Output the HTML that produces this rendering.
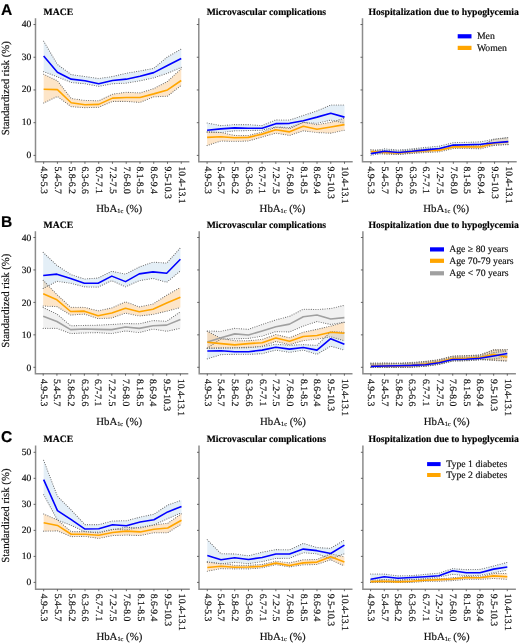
<!DOCTYPE html>
<html><head><meta charset="utf-8"><style>
html,body{margin:0;padding:0;background:#fff;}
svg{display:block;text-rendering:geometricPrecision;will-change:transform;}
text{font-family:"Liberation Serif",serif;stroke:#111;stroke-width:0.18px;}
.s{font-family:"Liberation Sans",sans-serif;}
</style></head><body>
<svg width="520" height="644" viewBox="0 0 520 644">
<rect width="520" height="644" fill="#fff"/>
<text x="1" y="14.8" class="s" font-weight="700" font-size="15.6" fill="#000">A</text>
<text x="43.60" y="14.7" font-weight="700" font-size="9.7" fill="#000">MACE</text>
<polygon points="43.65,74.25 57.41,80.80 71.17,98.47 84.93,100.43 98.69,100.76 112.45,94.21 126.21,92.25 139.97,92.90 153.73,88.65 167.49,81.45 181.25,68.69 181.25,85.38 167.49,96.18 153.73,96.83 139.97,102.39 126.21,101.41 112.45,101.41 98.69,107.30 84.93,107.63 71.17,106.65 57.41,96.50 43.65,103.05" fill="#f79723" fill-opacity="0.25"/>
<polygon points="43.65,41.21 57.41,64.44 71.17,74.58 84.93,76.54 98.69,78.51 112.45,76.54 126.21,73.27 139.97,70.98 153.73,68.36 167.49,56.91 181.25,49.06 181.25,67.38 167.49,73.27 153.73,77.85 139.97,80.80 126.21,83.09 112.45,83.74 98.69,86.36 84.93,83.74 71.17,82.43 57.41,76.87 43.65,71.64" fill="#93bfdf" fill-opacity="0.25"/>
<polyline points="43.65,74.25 57.41,80.80 71.17,98.47 84.93,100.43 98.69,100.76 112.45,94.21 126.21,92.25 139.97,92.90 153.73,88.65 167.49,81.45 181.25,68.69" fill="none" stroke="#6a6a6a" stroke-width="1.1" stroke-linecap="round" stroke-dasharray="0.05 2.25"/>
<polyline points="43.65,103.05 57.41,96.50 71.17,106.65 84.93,107.63 98.69,107.30 112.45,101.41 126.21,101.41 139.97,102.39 153.73,96.83 167.49,96.18 181.25,85.38" fill="none" stroke="#6a6a6a" stroke-width="1.1" stroke-linecap="round" stroke-dasharray="0.05 2.25"/>
<polyline points="43.65,41.21 57.41,64.44 71.17,74.58 84.93,76.54 98.69,78.51 112.45,76.54 126.21,73.27 139.97,70.98 153.73,68.36 167.49,56.91 181.25,49.06" fill="none" stroke="#6a6a6a" stroke-width="1.1" stroke-linecap="round" stroke-dasharray="0.05 2.25"/>
<polyline points="43.65,71.64 57.41,76.87 71.17,82.43 84.93,83.74 98.69,86.36 112.45,83.74 126.21,83.09 139.97,80.80 153.73,77.85 167.49,73.27 181.25,67.38" fill="none" stroke="#6a6a6a" stroke-width="1.1" stroke-linecap="round" stroke-dasharray="0.05 2.25"/>
<polyline points="43.65,89.31 57.41,89.63 71.17,102.72 84.93,104.68 98.69,104.36 112.45,98.14 126.21,97.49 139.97,97.49 153.73,93.89 167.49,89.96 181.25,80.47" fill="none" stroke="#ffa500" stroke-width="1.6" stroke-linejoin="round"/>
<polyline points="43.65,55.93 57.41,72.29 71.17,79.16 84.93,80.80 98.69,83.74 112.45,80.47 126.21,79.16 139.97,76.22 153.73,72.62 167.49,65.42 181.25,58.55" fill="none" stroke="#0000ff" stroke-width="1.6" stroke-linejoin="round"/>
<path d="M35.5,18.2 V161.8 H189.4" fill="none" stroke="#8c8c8c" stroke-width="1.5"/>
<path d="M33.5,155.40 H35.5" stroke="#555" stroke-width="0.9"/>
<text x="31.3" y="157.80" text-anchor="end" font-size="9.6" fill="#111">0</text>
<path d="M33.5,122.68 H35.5" stroke="#555" stroke-width="0.9"/>
<text x="31.3" y="125.08" text-anchor="end" font-size="9.6" fill="#111">10</text>
<path d="M33.5,89.96 H35.5" stroke="#555" stroke-width="0.9"/>
<text x="31.3" y="92.36" text-anchor="end" font-size="9.6" fill="#111">20</text>
<path d="M33.5,57.24 H35.5" stroke="#555" stroke-width="0.9"/>
<text x="31.3" y="59.64" text-anchor="end" font-size="9.6" fill="#111">30</text>
<path d="M33.5,24.52 H35.5" stroke="#555" stroke-width="0.9"/>
<text x="31.3" y="26.92" text-anchor="end" font-size="9.6" fill="#111">40</text>
<path d="M43.65,161.8 V163.8" stroke="#555" stroke-width="0.9"/>
<text transform="translate(41.05,166.50) rotate(90)" font-size="9.7" fill="#111">4.9-5.3</text>
<path d="M57.41,161.8 V163.8" stroke="#555" stroke-width="0.9"/>
<text transform="translate(54.81,166.50) rotate(90)" font-size="9.7" fill="#111">5.4-5.7</text>
<path d="M71.17,161.8 V163.8" stroke="#555" stroke-width="0.9"/>
<text transform="translate(68.57,166.50) rotate(90)" font-size="9.7" fill="#111">5.8-6.2</text>
<path d="M84.93,161.8 V163.8" stroke="#555" stroke-width="0.9"/>
<text transform="translate(82.33,166.50) rotate(90)" font-size="9.7" fill="#111">6.3-6.6</text>
<path d="M98.69,161.8 V163.8" stroke="#555" stroke-width="0.9"/>
<text transform="translate(96.09,166.50) rotate(90)" font-size="9.7" fill="#111">6.7-7.1</text>
<path d="M112.45,161.8 V163.8" stroke="#555" stroke-width="0.9"/>
<text transform="translate(109.85,166.50) rotate(90)" font-size="9.7" fill="#111">7.2-7.5</text>
<path d="M126.21,161.8 V163.8" stroke="#555" stroke-width="0.9"/>
<text transform="translate(123.61,166.50) rotate(90)" font-size="9.7" fill="#111">7.6-8.0</text>
<path d="M139.97,161.8 V163.8" stroke="#555" stroke-width="0.9"/>
<text transform="translate(137.37,166.50) rotate(90)" font-size="9.7" fill="#111">8.1-8.5</text>
<path d="M153.73,161.8 V163.8" stroke="#555" stroke-width="0.9"/>
<text transform="translate(151.13,166.50) rotate(90)" font-size="9.7" fill="#111">8.6-9.4</text>
<path d="M167.49,161.8 V163.8" stroke="#555" stroke-width="0.9"/>
<text transform="translate(164.89,166.50) rotate(90)" font-size="9.7" fill="#111">9.5-10.3</text>
<path d="M181.25,161.8 V163.8" stroke="#555" stroke-width="0.9"/>
<text transform="translate(178.65,166.50) rotate(90)" font-size="9.7" fill="#111">10.4-13.1</text>
<text x="96.30" y="211.60" font-size="10.8" fill="#111">HbA<tspan font-size="6.3" dy="0.9">1c</tspan><tspan dy="-0.9"> (%)</tspan></text>
<text x="206.70" y="14.7" font-weight="700" font-size="9.7" fill="#000">Microvascular complications</text>
<polygon points="207.10,131.51 220.84,132.50 234.58,135.44 248.32,135.44 262.06,132.17 275.80,127.26 289.54,128.57 303.28,122.35 317.02,124.64 330.76,122.35 344.50,118.10 344.50,130.21 330.76,133.15 317.02,132.50 303.28,130.86 289.54,135.44 275.80,133.15 262.06,137.08 248.32,141.00 234.58,141.33 220.84,141.00 207.10,145.58" fill="#f79723" fill-opacity="0.25"/>
<polygon points="207.10,123.01 220.84,125.62 234.58,124.64 248.32,124.64 262.06,125.62 275.80,119.90 289.54,120.06 303.28,115.48 317.02,110.90 330.76,105.01 344.50,105.01 344.50,123.17 330.76,120.06 317.02,123.33 303.28,122.35 289.54,127.59 275.80,126.93 262.06,130.21 248.32,130.53 234.58,130.86 220.84,132.50 207.10,132.50" fill="#93bfdf" fill-opacity="0.25"/>
<polyline points="207.10,131.51 220.84,132.50 234.58,135.44 248.32,135.44 262.06,132.17 275.80,127.26 289.54,128.57 303.28,122.35 317.02,124.64 330.76,122.35 344.50,118.10" fill="none" stroke="#6a6a6a" stroke-width="1.1" stroke-linecap="round" stroke-dasharray="0.05 2.25"/>
<polyline points="207.10,145.58 220.84,141.00 234.58,141.33 248.32,141.00 262.06,137.08 275.80,133.15 289.54,135.44 303.28,130.86 317.02,132.50 330.76,133.15 344.50,130.21" fill="none" stroke="#6a6a6a" stroke-width="1.1" stroke-linecap="round" stroke-dasharray="0.05 2.25"/>
<polyline points="207.10,123.01 220.84,125.62 234.58,124.64 248.32,124.64 262.06,125.62 275.80,119.90 289.54,120.06 303.28,115.48 317.02,110.90 330.76,105.01 344.50,105.01" fill="none" stroke="#6a6a6a" stroke-width="1.1" stroke-linecap="round" stroke-dasharray="0.05 2.25"/>
<polyline points="207.10,132.50 220.84,132.50 234.58,130.86 248.32,130.53 262.06,130.21 275.80,126.93 289.54,127.59 303.28,122.35 317.02,123.33 330.76,120.06 344.50,123.17" fill="none" stroke="#6a6a6a" stroke-width="1.1" stroke-linecap="round" stroke-dasharray="0.05 2.25"/>
<polyline points="207.10,137.40 220.84,136.75 234.58,137.73 248.32,137.40 262.06,134.13 275.80,129.71 289.54,131.84 303.28,126.28 317.02,129.22 330.76,126.93 344.50,124.64" fill="none" stroke="#ffa500" stroke-width="1.6" stroke-linejoin="round"/>
<polyline points="207.10,130.21 220.84,128.90 234.58,127.92 248.32,128.24 262.06,128.24 275.80,123.66 289.54,123.33 303.28,120.72 317.02,117.12 330.76,113.19 344.50,117.12" fill="none" stroke="#0000ff" stroke-width="1.6" stroke-linejoin="round"/>
<path d="M198.8,18.2 V161.8 H352.7" fill="none" stroke="#8c8c8c" stroke-width="1.5"/>
<path d="M196.8,155.40 H198.8" stroke="#555" stroke-width="0.9"/>
<path d="M196.8,122.68 H198.8" stroke="#555" stroke-width="0.9"/>
<path d="M196.8,89.96 H198.8" stroke="#555" stroke-width="0.9"/>
<path d="M196.8,57.24 H198.8" stroke="#555" stroke-width="0.9"/>
<path d="M196.8,24.52 H198.8" stroke="#555" stroke-width="0.9"/>
<path d="M207.10,161.8 V163.8" stroke="#555" stroke-width="0.9"/>
<text transform="translate(204.50,166.50) rotate(90)" font-size="9.7" fill="#111">4.9-5.3</text>
<path d="M220.84,161.8 V163.8" stroke="#555" stroke-width="0.9"/>
<text transform="translate(218.24,166.50) rotate(90)" font-size="9.7" fill="#111">5.4-5.7</text>
<path d="M234.58,161.8 V163.8" stroke="#555" stroke-width="0.9"/>
<text transform="translate(231.98,166.50) rotate(90)" font-size="9.7" fill="#111">5.8-6.2</text>
<path d="M248.32,161.8 V163.8" stroke="#555" stroke-width="0.9"/>
<text transform="translate(245.72,166.50) rotate(90)" font-size="9.7" fill="#111">6.3-6.6</text>
<path d="M262.06,161.8 V163.8" stroke="#555" stroke-width="0.9"/>
<text transform="translate(259.46,166.50) rotate(90)" font-size="9.7" fill="#111">6.7-7.1</text>
<path d="M275.80,161.8 V163.8" stroke="#555" stroke-width="0.9"/>
<text transform="translate(273.20,166.50) rotate(90)" font-size="9.7" fill="#111">7.2-7.5</text>
<path d="M289.54,161.8 V163.8" stroke="#555" stroke-width="0.9"/>
<text transform="translate(286.94,166.50) rotate(90)" font-size="9.7" fill="#111">7.6-8.0</text>
<path d="M303.28,161.8 V163.8" stroke="#555" stroke-width="0.9"/>
<text transform="translate(300.68,166.50) rotate(90)" font-size="9.7" fill="#111">8.1-8.5</text>
<path d="M317.02,161.8 V163.8" stroke="#555" stroke-width="0.9"/>
<text transform="translate(314.42,166.50) rotate(90)" font-size="9.7" fill="#111">8.6-9.4</text>
<path d="M330.76,161.8 V163.8" stroke="#555" stroke-width="0.9"/>
<text transform="translate(328.16,166.50) rotate(90)" font-size="9.7" fill="#111">9.5-10.3</text>
<path d="M344.50,161.8 V163.8" stroke="#555" stroke-width="0.9"/>
<text transform="translate(341.90,166.50) rotate(90)" font-size="9.7" fill="#111">10.4-13.1</text>
<text x="259.60" y="211.60" font-size="10.8" fill="#111">HbA<tspan font-size="6.3" dy="0.9">1c</tspan><tspan dy="-0.9"> (%)</tspan></text>
<text x="368.40" y="14.7" font-weight="700" font-size="9.7" fill="#000">Hospitalization due to hypoglycemia</text>
<polygon points="370.90,149.67 384.64,150.49 398.38,150.98 412.12,149.84 425.86,148.86 439.60,148.20 453.34,144.93 467.08,144.93 480.82,145.09 494.56,139.37 508.30,137.73 508.30,144.60 494.56,145.26 480.82,148.69 467.08,148.53 453.34,148.53 439.60,151.80 425.86,152.46 412.12,153.44 398.38,154.58 384.64,154.09 370.90,153.27" fill="#f79723" fill-opacity="0.25"/>
<polygon points="370.90,151.15 384.64,148.86 398.38,150.00 412.12,148.86 425.86,147.38 439.60,146.07 453.34,142.64 467.08,142.31 480.82,141.82 494.56,138.88 508.30,137.40 508.30,144.28 494.56,145.09 480.82,145.91 467.08,146.40 453.34,146.73 439.60,150.16 425.86,151.47 412.12,152.95 398.38,154.09 384.64,152.95 370.90,155.24" fill="#93bfdf" fill-opacity="0.25"/>
<polyline points="370.90,149.67 384.64,150.49 398.38,150.98 412.12,149.84 425.86,148.86 439.60,148.20 453.34,144.93 467.08,144.93 480.82,145.09 494.56,139.37 508.30,137.73" fill="none" stroke="#6a6a6a" stroke-width="1.1" stroke-linecap="round" stroke-dasharray="0.05 2.25"/>
<polyline points="370.90,153.27 384.64,154.09 398.38,154.58 412.12,153.44 425.86,152.46 439.60,151.80 453.34,148.53 467.08,148.53 480.82,148.69 494.56,145.26 508.30,144.60" fill="none" stroke="#6a6a6a" stroke-width="1.1" stroke-linecap="round" stroke-dasharray="0.05 2.25"/>
<polyline points="370.90,151.15 384.64,148.86 398.38,150.00 412.12,148.86 425.86,147.38 439.60,146.07 453.34,142.64 467.08,142.31 480.82,141.82 494.56,138.88 508.30,137.40" fill="none" stroke="#6a6a6a" stroke-width="1.1" stroke-linecap="round" stroke-dasharray="0.05 2.25"/>
<polyline points="370.90,155.24 384.64,152.95 398.38,154.09 412.12,152.95 425.86,151.47 439.60,150.16 453.34,146.73 467.08,146.40 480.82,145.91 494.56,145.09 508.30,144.28" fill="none" stroke="#6a6a6a" stroke-width="1.1" stroke-linecap="round" stroke-dasharray="0.05 2.25"/>
<polyline points="370.90,151.64 384.64,152.46 398.38,152.95 412.12,151.80 425.86,150.82 439.60,150.16 453.34,146.89 467.08,146.89 480.82,147.06 494.56,142.97 508.30,141.98" fill="none" stroke="#ffa500" stroke-width="1.6" stroke-linejoin="round"/>
<polyline points="370.90,153.60 384.64,151.31 398.38,152.46 412.12,151.31 425.86,149.84 439.60,148.53 453.34,145.09 467.08,144.77 480.82,144.28 494.56,142.80 508.30,141.66" fill="none" stroke="#0000ff" stroke-width="1.6" stroke-linejoin="round"/>
<path d="M362.5,18.2 V161.8 H516.7" fill="none" stroke="#8c8c8c" stroke-width="1.5"/>
<path d="M360.5,155.40 H362.5" stroke="#555" stroke-width="0.9"/>
<path d="M360.5,122.68 H362.5" stroke="#555" stroke-width="0.9"/>
<path d="M360.5,89.96 H362.5" stroke="#555" stroke-width="0.9"/>
<path d="M360.5,57.24 H362.5" stroke="#555" stroke-width="0.9"/>
<path d="M360.5,24.52 H362.5" stroke="#555" stroke-width="0.9"/>
<path d="M370.90,161.8 V163.8" stroke="#555" stroke-width="0.9"/>
<text transform="translate(368.30,166.50) rotate(90)" font-size="9.7" fill="#111">4.9-5.3</text>
<path d="M384.64,161.8 V163.8" stroke="#555" stroke-width="0.9"/>
<text transform="translate(382.04,166.50) rotate(90)" font-size="9.7" fill="#111">5.4-5.7</text>
<path d="M398.38,161.8 V163.8" stroke="#555" stroke-width="0.9"/>
<text transform="translate(395.78,166.50) rotate(90)" font-size="9.7" fill="#111">5.8-6.2</text>
<path d="M412.12,161.8 V163.8" stroke="#555" stroke-width="0.9"/>
<text transform="translate(409.52,166.50) rotate(90)" font-size="9.7" fill="#111">6.3-6.6</text>
<path d="M425.86,161.8 V163.8" stroke="#555" stroke-width="0.9"/>
<text transform="translate(423.26,166.50) rotate(90)" font-size="9.7" fill="#111">6.7-7.1</text>
<path d="M439.60,161.8 V163.8" stroke="#555" stroke-width="0.9"/>
<text transform="translate(437.00,166.50) rotate(90)" font-size="9.7" fill="#111">7.2-7.5</text>
<path d="M453.34,161.8 V163.8" stroke="#555" stroke-width="0.9"/>
<text transform="translate(450.74,166.50) rotate(90)" font-size="9.7" fill="#111">7.6-8.0</text>
<path d="M467.08,161.8 V163.8" stroke="#555" stroke-width="0.9"/>
<text transform="translate(464.48,166.50) rotate(90)" font-size="9.7" fill="#111">8.1-8.5</text>
<path d="M480.82,161.8 V163.8" stroke="#555" stroke-width="0.9"/>
<text transform="translate(478.22,166.50) rotate(90)" font-size="9.7" fill="#111">8.6-9.4</text>
<path d="M494.56,161.8 V163.8" stroke="#555" stroke-width="0.9"/>
<text transform="translate(491.96,166.50) rotate(90)" font-size="9.7" fill="#111">9.5-10.3</text>
<path d="M508.30,161.8 V163.8" stroke="#555" stroke-width="0.9"/>
<text transform="translate(505.70,166.50) rotate(90)" font-size="9.7" fill="#111">10.4-13.1</text>
<text x="423.30" y="211.60" font-size="10.8" fill="#111">HbA<tspan font-size="6.3" dy="0.9">1c</tspan><tspan dy="-0.9"> (%)</tspan></text>
<text transform="translate(8.6,88.20) rotate(-90)" text-anchor="middle" font-size="10.8" fill="#111">Standardized risk (%)</text>
<rect x="457.7" y="34.2" width="13.8" height="4.2" fill="#0000ff"/>
<text x="476.9" y="39.2" font-size="9.75" fill="#111">Men</text>
<rect x="457.7" y="45.8" width="13.8" height="4.2" fill="#ffa500"/>
<text x="476.9" y="50.6" font-size="9.75" fill="#111">Women</text>
<text x="1" y="226.9" class="s" font-weight="700" font-size="15.6" fill="#000">B</text>
<text x="43.60" y="227.7" font-weight="700" font-size="9.7" fill="#000">MACE</text>
<polygon points="43.20,307.59 56.92,314.08 70.64,325.76 84.36,325.44 98.08,325.12 111.80,324.47 125.52,323.49 139.24,323.82 152.96,320.57 166.68,321.22 180.40,311.81 180.40,328.36 166.68,331.28 152.96,329.01 139.24,332.58 125.52,330.96 111.80,333.55 98.08,332.58 84.36,332.90 70.64,333.55 56.92,328.36 43.20,328.36" fill="#c4c4c4" fill-opacity="0.24"/>
<polygon points="43.20,280.33 56.92,294.61 70.64,307.27 84.36,307.27 98.08,310.84 111.80,307.92 125.52,301.75 139.24,306.94 152.96,304.02 166.68,295.26 180.40,287.47 180.40,307.59 166.68,311.16 152.96,314.41 139.24,316.03 125.52,313.11 111.80,317.98 98.08,318.62 84.36,314.08 70.64,315.06 56.92,306.62 43.20,305.97" fill="#f79723" fill-opacity="0.25"/>
<polygon points="43.20,252.43 56.92,265.41 70.64,274.49 84.36,279.04 98.08,278.06 111.80,271.25 125.52,274.17 139.24,267.03 152.96,262.16 166.68,263.14 180.40,247.88 180.40,270.92 166.68,282.28 152.96,278.39 139.24,280.66 125.52,286.82 111.80,280.66 98.08,287.15 84.36,286.82 70.64,283.25 56.92,281.31 43.20,288.45" fill="#93bfdf" fill-opacity="0.25"/>
<polyline points="43.20,307.59 56.92,314.08 70.64,325.76 84.36,325.44 98.08,325.12 111.80,324.47 125.52,323.49 139.24,323.82 152.96,320.57 166.68,321.22 180.40,311.81" fill="none" stroke="#6a6a6a" stroke-width="1.1" stroke-linecap="round" stroke-dasharray="0.05 2.25"/>
<polyline points="43.20,328.36 56.92,328.36 70.64,333.55 84.36,332.90 98.08,332.58 111.80,333.55 125.52,330.96 139.24,332.58 152.96,329.01 166.68,331.28 180.40,328.36" fill="none" stroke="#6a6a6a" stroke-width="1.1" stroke-linecap="round" stroke-dasharray="0.05 2.25"/>
<polyline points="43.20,280.33 56.92,294.61 70.64,307.27 84.36,307.27 98.08,310.84 111.80,307.92 125.52,301.75 139.24,306.94 152.96,304.02 166.68,295.26 180.40,287.47" fill="none" stroke="#6a6a6a" stroke-width="1.1" stroke-linecap="round" stroke-dasharray="0.05 2.25"/>
<polyline points="43.20,305.97 56.92,306.62 70.64,315.06 84.36,314.08 98.08,318.62 111.80,317.98 125.52,313.11 139.24,316.03 152.96,314.41 166.68,311.16 180.40,307.59" fill="none" stroke="#6a6a6a" stroke-width="1.1" stroke-linecap="round" stroke-dasharray="0.05 2.25"/>
<polyline points="43.20,252.43 56.92,265.41 70.64,274.49 84.36,279.04 98.08,278.06 111.80,271.25 125.52,274.17 139.24,267.03 152.96,262.16 166.68,263.14 180.40,247.88" fill="none" stroke="#6a6a6a" stroke-width="1.1" stroke-linecap="round" stroke-dasharray="0.05 2.25"/>
<polyline points="43.20,288.45 56.92,281.31 70.64,283.25 84.36,286.82 98.08,287.15 111.80,280.66 125.52,286.82 139.24,280.66 152.96,278.39 166.68,282.28 180.40,270.92" fill="none" stroke="#6a6a6a" stroke-width="1.1" stroke-linecap="round" stroke-dasharray="0.05 2.25"/>
<polyline points="43.20,316.35 56.92,321.55 70.64,329.66 84.36,329.01 98.08,329.33 111.80,329.66 125.52,327.06 139.24,328.36 152.96,325.76 166.68,325.12 180.40,319.60" fill="none" stroke="#a0a0a0" stroke-width="1.6" stroke-linejoin="round"/>
<polyline points="43.20,293.80 56.92,299.80 70.64,311.49 84.36,311.16 98.08,315.70 111.80,312.95 125.52,308.24 139.24,311.81 152.96,309.21 166.68,303.05 180.40,297.21" fill="none" stroke="#ffa500" stroke-width="1.6" stroke-linejoin="round"/>
<polyline points="43.20,275.47 56.92,274.17 70.64,278.39 84.36,283.25 98.08,283.25 111.80,276.12 125.52,281.63 139.24,273.84 152.96,271.90 166.68,273.19 180.40,259.24" fill="none" stroke="#0000ff" stroke-width="1.6" stroke-linejoin="round"/>
<path d="M35.4,231.2 V373.7 H188.3" fill="none" stroke="#8c8c8c" stroke-width="1.5"/>
<path d="M33.4,367.30 H35.4" stroke="#555" stroke-width="0.9"/>
<text x="31.3" y="370.60" text-anchor="end" font-size="9.6" fill="#111">0</text>
<path d="M33.4,334.85 H35.4" stroke="#555" stroke-width="0.9"/>
<text x="31.3" y="338.15" text-anchor="end" font-size="9.6" fill="#111">10</text>
<path d="M33.4,302.40 H35.4" stroke="#555" stroke-width="0.9"/>
<text x="31.3" y="305.70" text-anchor="end" font-size="9.6" fill="#111">20</text>
<path d="M33.4,269.95 H35.4" stroke="#555" stroke-width="0.9"/>
<text x="31.3" y="273.25" text-anchor="end" font-size="9.6" fill="#111">30</text>
<path d="M33.4,237.50 H35.4" stroke="#555" stroke-width="0.9"/>
<text x="31.3" y="240.80" text-anchor="end" font-size="9.6" fill="#111">40</text>
<path d="M43.20,373.7 V375.7" stroke="#555" stroke-width="0.9"/>
<text transform="translate(40.60,378.90) rotate(90)" font-size="9.7" fill="#111">4.9-5.3</text>
<path d="M56.92,373.7 V375.7" stroke="#555" stroke-width="0.9"/>
<text transform="translate(54.32,378.90) rotate(90)" font-size="9.7" fill="#111">5.4-5.7</text>
<path d="M70.64,373.7 V375.7" stroke="#555" stroke-width="0.9"/>
<text transform="translate(68.04,378.90) rotate(90)" font-size="9.7" fill="#111">5.8-6.2</text>
<path d="M84.36,373.7 V375.7" stroke="#555" stroke-width="0.9"/>
<text transform="translate(81.76,378.90) rotate(90)" font-size="9.7" fill="#111">6.3-6.6</text>
<path d="M98.08,373.7 V375.7" stroke="#555" stroke-width="0.9"/>
<text transform="translate(95.48,378.90) rotate(90)" font-size="9.7" fill="#111">6.7-7.1</text>
<path d="M111.80,373.7 V375.7" stroke="#555" stroke-width="0.9"/>
<text transform="translate(109.20,378.90) rotate(90)" font-size="9.7" fill="#111">7.2-7.5</text>
<path d="M125.52,373.7 V375.7" stroke="#555" stroke-width="0.9"/>
<text transform="translate(122.92,378.90) rotate(90)" font-size="9.7" fill="#111">7.6-8.0</text>
<path d="M139.24,373.7 V375.7" stroke="#555" stroke-width="0.9"/>
<text transform="translate(136.64,378.90) rotate(90)" font-size="9.7" fill="#111">8.1-8.5</text>
<path d="M152.96,373.7 V375.7" stroke="#555" stroke-width="0.9"/>
<text transform="translate(150.36,378.90) rotate(90)" font-size="9.7" fill="#111">8.6-9.4</text>
<path d="M166.68,373.7 V375.7" stroke="#555" stroke-width="0.9"/>
<text transform="translate(164.08,378.90) rotate(90)" font-size="9.7" fill="#111">9.5-10.3</text>
<path d="M180.40,373.7 V375.7" stroke="#555" stroke-width="0.9"/>
<text transform="translate(177.80,378.90) rotate(90)" font-size="9.7" fill="#111">10.4-13.1</text>
<text x="96.20" y="424.70" font-size="10.8" fill="#111">HbA<tspan font-size="6.3" dy="0.9">1c</tspan><tspan dy="-0.9"> (%)</tspan></text>
<text x="206.70" y="227.7" font-weight="700" font-size="9.7" fill="#000">Microvascular complications</text>
<polygon points="207.30,330.96 221.01,331.28 234.72,328.36 248.43,329.33 262.14,324.47 275.85,319.92 289.56,316.35 303.27,309.21 316.98,309.54 330.69,308.57 344.40,305.32 344.40,322.19 330.69,324.47 316.98,321.55 303.27,326.09 289.56,331.93 275.85,331.61 262.14,336.15 248.43,338.42 234.72,338.74 221.01,339.07 207.30,348.15" fill="#c4c4c4" fill-opacity="0.24"/>
<polygon points="207.30,331.28 221.01,338.42 234.72,340.69 248.43,340.69 262.14,339.39 275.85,334.53 289.56,337.77 303.27,332.25 316.98,329.33 330.69,326.09 344.40,322.19 344.40,340.69 330.69,336.80 316.98,339.07 303.27,340.69 289.56,344.59 275.85,341.50 262.14,346.21 248.43,347.83 234.72,347.83 221.01,347.83 207.30,348.15" fill="#f79723" fill-opacity="0.25"/>
<polygon points="207.30,348.15 221.01,348.15 234.72,347.83 248.43,347.18 262.14,346.69 275.85,344.26 289.56,345.23 303.27,344.59 316.98,345.40 330.69,331.61 344.40,332.25 344.40,350.10 330.69,346.21 316.98,354.32 303.27,350.10 289.56,352.37 275.85,350.10 262.14,353.67 248.43,354.32 234.72,354.32 221.01,354.64 207.30,358.86" fill="#93bfdf" fill-opacity="0.25"/>
<polyline points="207.30,330.96 221.01,331.28 234.72,328.36 248.43,329.33 262.14,324.47 275.85,319.92 289.56,316.35 303.27,309.21 316.98,309.54 330.69,308.57 344.40,305.32" fill="none" stroke="#6a6a6a" stroke-width="1.1" stroke-linecap="round" stroke-dasharray="0.05 2.25"/>
<polyline points="207.30,348.15 221.01,339.07 234.72,338.74 248.43,338.42 262.14,336.15 275.85,331.61 289.56,331.93 303.27,326.09 316.98,321.55 330.69,324.47 344.40,322.19" fill="none" stroke="#6a6a6a" stroke-width="1.1" stroke-linecap="round" stroke-dasharray="0.05 2.25"/>
<polyline points="207.30,331.28 221.01,338.42 234.72,340.69 248.43,340.69 262.14,339.39 275.85,334.53 289.56,337.77 303.27,332.25 316.98,329.33 330.69,326.09 344.40,322.19" fill="none" stroke="#6a6a6a" stroke-width="1.1" stroke-linecap="round" stroke-dasharray="0.05 2.25"/>
<polyline points="207.30,348.15 221.01,347.83 234.72,347.83 248.43,347.83 262.14,346.21 275.85,341.50 289.56,344.59 303.27,340.69 316.98,339.07 330.69,336.80 344.40,340.69" fill="none" stroke="#6a6a6a" stroke-width="1.1" stroke-linecap="round" stroke-dasharray="0.05 2.25"/>
<polyline points="207.30,348.15 221.01,348.15 234.72,347.83 248.43,347.18 262.14,346.69 275.85,344.26 289.56,345.23 303.27,344.59 316.98,345.40 330.69,331.61 344.40,332.25" fill="none" stroke="#6a6a6a" stroke-width="1.1" stroke-linecap="round" stroke-dasharray="0.05 2.25"/>
<polyline points="207.30,358.86 221.01,354.64 234.72,354.32 248.43,354.32 262.14,353.67 275.85,350.10 289.56,352.37 303.27,350.10 316.98,354.32 330.69,346.21 344.40,350.10" fill="none" stroke="#6a6a6a" stroke-width="1.1" stroke-linecap="round" stroke-dasharray="0.05 2.25"/>
<polyline points="207.30,341.99 221.01,337.77 234.72,333.88 248.43,335.01 262.14,330.96 275.85,326.74 289.56,324.14 303.27,316.68 316.98,315.06 330.69,318.95 344.40,317.65" fill="none" stroke="#a0a0a0" stroke-width="1.6" stroke-linejoin="round"/>
<polyline points="207.30,342.31 221.01,343.61 234.72,344.91 248.43,343.61 262.14,342.80 275.85,337.93 289.56,341.34 303.27,336.47 316.98,335.50 330.69,332.25 344.40,333.23" fill="none" stroke="#ffa500" stroke-width="1.6" stroke-linejoin="round"/>
<polyline points="207.30,351.07 221.01,350.75 234.72,351.72 248.43,351.72 262.14,350.10 275.85,347.18 289.56,349.13 303.27,347.51 316.98,350.10 330.69,338.74 344.40,344.26" fill="none" stroke="#0000ff" stroke-width="1.6" stroke-linejoin="round"/>
<path d="M199.2,231.2 V373.7 H352.5" fill="none" stroke="#8c8c8c" stroke-width="1.5"/>
<path d="M197.2,367.30 H199.2" stroke="#555" stroke-width="0.9"/>
<path d="M197.2,334.85 H199.2" stroke="#555" stroke-width="0.9"/>
<path d="M197.2,302.40 H199.2" stroke="#555" stroke-width="0.9"/>
<path d="M197.2,269.95 H199.2" stroke="#555" stroke-width="0.9"/>
<path d="M197.2,237.50 H199.2" stroke="#555" stroke-width="0.9"/>
<path d="M207.30,373.7 V375.7" stroke="#555" stroke-width="0.9"/>
<text transform="translate(204.70,378.90) rotate(90)" font-size="9.7" fill="#111">4.9-5.3</text>
<path d="M221.01,373.7 V375.7" stroke="#555" stroke-width="0.9"/>
<text transform="translate(218.41,378.90) rotate(90)" font-size="9.7" fill="#111">5.4-5.7</text>
<path d="M234.72,373.7 V375.7" stroke="#555" stroke-width="0.9"/>
<text transform="translate(232.12,378.90) rotate(90)" font-size="9.7" fill="#111">5.8-6.2</text>
<path d="M248.43,373.7 V375.7" stroke="#555" stroke-width="0.9"/>
<text transform="translate(245.83,378.90) rotate(90)" font-size="9.7" fill="#111">6.3-6.6</text>
<path d="M262.14,373.7 V375.7" stroke="#555" stroke-width="0.9"/>
<text transform="translate(259.54,378.90) rotate(90)" font-size="9.7" fill="#111">6.7-7.1</text>
<path d="M275.85,373.7 V375.7" stroke="#555" stroke-width="0.9"/>
<text transform="translate(273.25,378.90) rotate(90)" font-size="9.7" fill="#111">7.2-7.5</text>
<path d="M289.56,373.7 V375.7" stroke="#555" stroke-width="0.9"/>
<text transform="translate(286.96,378.90) rotate(90)" font-size="9.7" fill="#111">7.6-8.0</text>
<path d="M303.27,373.7 V375.7" stroke="#555" stroke-width="0.9"/>
<text transform="translate(300.67,378.90) rotate(90)" font-size="9.7" fill="#111">8.1-8.5</text>
<path d="M316.98,373.7 V375.7" stroke="#555" stroke-width="0.9"/>
<text transform="translate(314.38,378.90) rotate(90)" font-size="9.7" fill="#111">8.6-9.4</text>
<path d="M330.69,373.7 V375.7" stroke="#555" stroke-width="0.9"/>
<text transform="translate(328.09,378.90) rotate(90)" font-size="9.7" fill="#111">9.5-10.3</text>
<path d="M344.40,373.7 V375.7" stroke="#555" stroke-width="0.9"/>
<text transform="translate(341.80,378.90) rotate(90)" font-size="9.7" fill="#111">10.4-13.1</text>
<text x="260.00" y="424.70" font-size="10.8" fill="#111">HbA<tspan font-size="6.3" dy="0.9">1c</tspan><tspan dy="-0.9"> (%)</tspan></text>
<text x="368.40" y="227.7" font-weight="700" font-size="9.7" fill="#000">Hospitalization due to hypoglycemia</text>
<polygon points="370.90,363.08 384.54,363.08 398.18,363.08 411.82,362.43 425.46,361.46 439.10,359.84 452.74,356.27 466.38,355.94 480.02,354.97 493.66,350.43 507.30,350.10 507.30,360.81 493.66,359.84 480.02,359.51 466.38,360.49 452.74,360.81 439.10,364.38 425.46,366.00 411.82,366.98 398.18,367.30 384.54,367.30 370.90,367.30" fill="#c4c4c4" fill-opacity="0.24"/>
<polygon points="370.90,363.41 384.54,363.08 398.18,363.41 411.82,362.76 425.46,361.46 439.10,359.51 452.74,355.94 466.38,355.62 480.02,354.97 493.66,349.61 507.30,349.61 507.30,361.13 493.66,360.49 480.02,359.51 466.38,360.16 452.74,360.49 439.10,364.06 425.46,366.00 411.82,367.30 398.18,367.30 384.54,367.30 370.90,367.30" fill="#f79723" fill-opacity="0.25"/>
<polygon points="370.90,364.44 384.54,364.06 398.18,363.73 411.82,363.41 425.46,362.76 439.10,360.81 452.74,357.56 466.38,357.24 480.02,356.27 493.66,352.37 507.30,351.07 507.30,356.92 493.66,358.86 480.02,359.84 466.38,360.81 452.74,361.13 439.10,364.38 425.46,366.33 411.82,366.98 398.18,367.30 384.54,367.30 370.90,367.30" fill="#93bfdf" fill-opacity="0.25"/>
<polyline points="370.90,363.08 384.54,363.08 398.18,363.08 411.82,362.43 425.46,361.46 439.10,359.84 452.74,356.27 466.38,355.94 480.02,354.97 493.66,350.43 507.30,350.10" fill="none" stroke="#6a6a6a" stroke-width="1.1" stroke-linecap="round" stroke-dasharray="0.05 2.25"/>
<polyline points="370.90,367.30 384.54,367.30 398.18,367.30 411.82,366.98 425.46,366.00 439.10,364.38 452.74,360.81 466.38,360.49 480.02,359.51 493.66,359.84 507.30,360.81" fill="none" stroke="#6a6a6a" stroke-width="1.1" stroke-linecap="round" stroke-dasharray="0.05 2.25"/>
<polyline points="370.90,363.41 384.54,363.08 398.18,363.41 411.82,362.76 425.46,361.46 439.10,359.51 452.74,355.94 466.38,355.62 480.02,354.97 493.66,349.61 507.30,349.61" fill="none" stroke="#6a6a6a" stroke-width="1.1" stroke-linecap="round" stroke-dasharray="0.05 2.25"/>
<polyline points="370.90,367.30 384.54,367.30 398.18,367.30 411.82,367.30 425.46,366.00 439.10,364.06 452.74,360.49 466.38,360.16 480.02,359.51 493.66,360.49 507.30,361.13" fill="none" stroke="#6a6a6a" stroke-width="1.1" stroke-linecap="round" stroke-dasharray="0.05 2.25"/>
<polyline points="370.90,364.44 384.54,364.06 398.18,363.73 411.82,363.41 425.46,362.76 439.10,360.81 452.74,357.56 466.38,357.24 480.02,356.27 493.66,352.37 507.30,351.07" fill="none" stroke="#6a6a6a" stroke-width="1.1" stroke-linecap="round" stroke-dasharray="0.05 2.25"/>
<polyline points="370.90,367.30 384.54,367.30 398.18,367.30 411.82,366.98 425.46,366.33 439.10,364.38 452.74,361.13 466.38,360.81 480.02,359.84 493.66,358.86 507.30,356.92" fill="none" stroke="#6a6a6a" stroke-width="1.1" stroke-linecap="round" stroke-dasharray="0.05 2.25"/>
<polyline points="370.90,365.68 384.54,365.68 398.18,365.68 411.82,365.03 425.46,364.06 439.10,362.43 452.74,358.86 466.38,358.54 480.02,357.56 493.66,354.97 507.30,355.94" fill="none" stroke="#a0a0a0" stroke-width="1.6" stroke-linejoin="round"/>
<polyline points="370.90,366.00 384.54,365.68 398.18,366.00 411.82,365.35 425.46,364.06 439.10,362.11 452.74,358.54 466.38,358.21 480.02,357.56 493.66,354.32 507.30,357.24" fill="none" stroke="#ffa500" stroke-width="1.6" stroke-linejoin="round"/>
<polyline points="370.90,366.39 384.54,366.00 398.18,365.68 411.82,365.35 425.46,364.70 439.10,362.76 452.74,359.51 466.38,359.19 480.02,358.21 493.66,355.94 507.30,353.51" fill="none" stroke="#0000ff" stroke-width="1.6" stroke-linejoin="round"/>
<path d="M362.9,231.2 V373.7 H515.9" fill="none" stroke="#8c8c8c" stroke-width="1.5"/>
<path d="M360.9,367.30 H362.9" stroke="#555" stroke-width="0.9"/>
<path d="M360.9,334.85 H362.9" stroke="#555" stroke-width="0.9"/>
<path d="M360.9,302.40 H362.9" stroke="#555" stroke-width="0.9"/>
<path d="M360.9,269.95 H362.9" stroke="#555" stroke-width="0.9"/>
<path d="M360.9,237.50 H362.9" stroke="#555" stroke-width="0.9"/>
<path d="M370.90,373.7 V375.7" stroke="#555" stroke-width="0.9"/>
<text transform="translate(368.30,378.90) rotate(90)" font-size="9.7" fill="#111">4.9-5.3</text>
<path d="M384.54,373.7 V375.7" stroke="#555" stroke-width="0.9"/>
<text transform="translate(381.94,378.90) rotate(90)" font-size="9.7" fill="#111">5.4-5.7</text>
<path d="M398.18,373.7 V375.7" stroke="#555" stroke-width="0.9"/>
<text transform="translate(395.58,378.90) rotate(90)" font-size="9.7" fill="#111">5.8-6.2</text>
<path d="M411.82,373.7 V375.7" stroke="#555" stroke-width="0.9"/>
<text transform="translate(409.22,378.90) rotate(90)" font-size="9.7" fill="#111">6.3-6.6</text>
<path d="M425.46,373.7 V375.7" stroke="#555" stroke-width="0.9"/>
<text transform="translate(422.86,378.90) rotate(90)" font-size="9.7" fill="#111">6.7-7.1</text>
<path d="M439.10,373.7 V375.7" stroke="#555" stroke-width="0.9"/>
<text transform="translate(436.50,378.90) rotate(90)" font-size="9.7" fill="#111">7.2-7.5</text>
<path d="M452.74,373.7 V375.7" stroke="#555" stroke-width="0.9"/>
<text transform="translate(450.14,378.90) rotate(90)" font-size="9.7" fill="#111">7.6-8.0</text>
<path d="M466.38,373.7 V375.7" stroke="#555" stroke-width="0.9"/>
<text transform="translate(463.78,378.90) rotate(90)" font-size="9.7" fill="#111">8.1-8.5</text>
<path d="M480.02,373.7 V375.7" stroke="#555" stroke-width="0.9"/>
<text transform="translate(477.42,378.90) rotate(90)" font-size="9.7" fill="#111">8.6-9.4</text>
<path d="M493.66,373.7 V375.7" stroke="#555" stroke-width="0.9"/>
<text transform="translate(491.06,378.90) rotate(90)" font-size="9.7" fill="#111">9.5-10.3</text>
<path d="M507.30,373.7 V375.7" stroke="#555" stroke-width="0.9"/>
<text transform="translate(504.70,378.90) rotate(90)" font-size="9.7" fill="#111">10.4-13.1</text>
<text x="423.70" y="424.70" font-size="10.8" fill="#111">HbA<tspan font-size="6.3" dy="0.9">1c</tspan><tspan dy="-0.9"> (%)</tspan></text>
<text transform="translate(8.6,300.65) rotate(-90)" text-anchor="middle" font-size="10.8" fill="#111">Standardized risk (%)</text>
<rect x="430.0" y="247.3" width="14.0" height="4.2" fill="#0000ff"/>
<text x="449.2" y="252.2" font-size="9.75" fill="#111">Age ≥ 80 years</text>
<rect x="430.0" y="258.7" width="14.0" height="4.2" fill="#ffa500"/>
<text x="449.2" y="263.9" font-size="9.75" fill="#111">Age 70-79 years</text>
<rect x="430.0" y="271.2" width="14.0" height="4.2" fill="#a0a0a0"/>
<text x="449.2" y="276.0" font-size="9.75" fill="#111">Age &lt; 70 years</text>
<text x="1" y="441.9" class="s" font-weight="700" font-size="15.6" fill="#000">C</text>
<text x="43.60" y="442.3" font-weight="700" font-size="9.7" fill="#000">MACE</text>
<polygon points="43.65,513.97 57.44,519.95 71.22,531.66 85.00,531.66 98.79,532.96 112.57,529.58 126.36,527.24 140.14,528.02 153.93,524.90 167.71,523.33 181.50,513.71 181.50,524.12 167.71,532.70 153.93,532.70 140.14,535.56 126.36,535.04 112.57,535.56 98.79,538.43 85.00,536.34 71.22,536.60 57.44,530.88 43.65,531.14" fill="#f79723" fill-opacity="0.25"/>
<polygon points="43.65,460.37 57.44,496.27 71.22,510.06 85.00,524.64 98.79,524.64 112.57,520.99 126.36,520.73 140.14,517.09 153.93,514.23 167.71,505.12 181.50,500.18 181.50,512.67 167.71,518.65 153.93,524.90 140.14,527.24 126.36,529.84 112.57,529.32 98.79,532.18 85.00,531.66 71.22,525.42 57.44,519.95 43.65,494.71" fill="#93bfdf" fill-opacity="0.25"/>
<polyline points="43.65,513.97 57.44,519.95 71.22,531.66 85.00,531.66 98.79,532.96 112.57,529.58 126.36,527.24 140.14,528.02 153.93,524.90 167.71,523.33 181.50,513.71" fill="none" stroke="#6a6a6a" stroke-width="1.1" stroke-linecap="round" stroke-dasharray="0.05 2.25"/>
<polyline points="43.65,531.14 57.44,530.88 71.22,536.60 85.00,536.34 98.79,538.43 112.57,535.56 126.36,535.04 140.14,535.56 153.93,532.70 167.71,532.70 181.50,524.12" fill="none" stroke="#6a6a6a" stroke-width="1.1" stroke-linecap="round" stroke-dasharray="0.05 2.25"/>
<polyline points="43.65,460.37 57.44,496.27 71.22,510.06 85.00,524.64 98.79,524.64 112.57,520.99 126.36,520.73 140.14,517.09 153.93,514.23 167.71,505.12 181.50,500.18" fill="none" stroke="#6a6a6a" stroke-width="1.1" stroke-linecap="round" stroke-dasharray="0.05 2.25"/>
<polyline points="43.65,494.71 57.44,519.95 71.22,525.42 85.00,531.66 98.79,532.18 112.57,529.32 126.36,529.84 140.14,527.24 153.93,524.90 167.71,518.65 181.50,512.67" fill="none" stroke="#6a6a6a" stroke-width="1.1" stroke-linecap="round" stroke-dasharray="0.05 2.25"/>
<polyline points="43.65,522.81 57.44,525.42 71.22,534.26 85.00,534.26 98.79,535.30 112.57,532.44 126.36,531.14 140.14,531.92 153.93,529.32 167.71,528.02 181.50,520.21" fill="none" stroke="#ffa500" stroke-width="1.6" stroke-linejoin="round"/>
<polyline points="43.65,479.62 57.44,510.58 71.22,519.69 85.00,529.06 98.79,528.80 112.57,524.77 126.36,525.68 140.14,522.03 153.93,519.69 167.71,511.89 181.50,506.42" fill="none" stroke="#0000ff" stroke-width="1.6" stroke-linejoin="round"/>
<path d="M35.6,445.6 V589.2 H189.8" fill="none" stroke="#8c8c8c" stroke-width="1.5"/>
<path d="M33.6,582.40 H35.6" stroke="#555" stroke-width="0.9"/>
<text x="31.3" y="584.90" text-anchor="end" font-size="9.6" fill="#111">0</text>
<path d="M33.6,556.38 H35.6" stroke="#555" stroke-width="0.9"/>
<text x="31.3" y="558.88" text-anchor="end" font-size="9.6" fill="#111">10</text>
<path d="M33.6,530.36 H35.6" stroke="#555" stroke-width="0.9"/>
<text x="31.3" y="532.86" text-anchor="end" font-size="9.6" fill="#111">20</text>
<path d="M33.6,504.34 H35.6" stroke="#555" stroke-width="0.9"/>
<text x="31.3" y="506.84" text-anchor="end" font-size="9.6" fill="#111">30</text>
<path d="M33.6,478.32 H35.6" stroke="#555" stroke-width="0.9"/>
<text x="31.3" y="480.82" text-anchor="end" font-size="9.6" fill="#111">40</text>
<path d="M33.6,452.30 H35.6" stroke="#555" stroke-width="0.9"/>
<text x="31.3" y="454.80" text-anchor="end" font-size="9.6" fill="#111">50</text>
<path d="M43.65,589.2 V591.2" stroke="#555" stroke-width="0.9"/>
<text transform="translate(41.05,593.80) rotate(90)" font-size="9.7" fill="#111">4.9-5.3</text>
<path d="M57.44,589.2 V591.2" stroke="#555" stroke-width="0.9"/>
<text transform="translate(54.84,593.80) rotate(90)" font-size="9.7" fill="#111">5.4-5.7</text>
<path d="M71.22,589.2 V591.2" stroke="#555" stroke-width="0.9"/>
<text transform="translate(68.62,593.80) rotate(90)" font-size="9.7" fill="#111">5.8-6.2</text>
<path d="M85.00,589.2 V591.2" stroke="#555" stroke-width="0.9"/>
<text transform="translate(82.41,593.80) rotate(90)" font-size="9.7" fill="#111">6.3-6.6</text>
<path d="M98.79,589.2 V591.2" stroke="#555" stroke-width="0.9"/>
<text transform="translate(96.19,593.80) rotate(90)" font-size="9.7" fill="#111">6.7-7.1</text>
<path d="M112.57,589.2 V591.2" stroke="#555" stroke-width="0.9"/>
<text transform="translate(109.97,593.80) rotate(90)" font-size="9.7" fill="#111">7.2-7.5</text>
<path d="M126.36,589.2 V591.2" stroke="#555" stroke-width="0.9"/>
<text transform="translate(123.76,593.80) rotate(90)" font-size="9.7" fill="#111">7.6-8.0</text>
<path d="M140.14,589.2 V591.2" stroke="#555" stroke-width="0.9"/>
<text transform="translate(137.54,593.80) rotate(90)" font-size="9.7" fill="#111">8.1-8.5</text>
<path d="M153.93,589.2 V591.2" stroke="#555" stroke-width="0.9"/>
<text transform="translate(151.33,593.80) rotate(90)" font-size="9.7" fill="#111">8.6-9.4</text>
<path d="M167.71,589.2 V591.2" stroke="#555" stroke-width="0.9"/>
<text transform="translate(165.11,593.80) rotate(90)" font-size="9.7" fill="#111">9.5-10.3</text>
<path d="M181.50,589.2 V591.2" stroke="#555" stroke-width="0.9"/>
<text transform="translate(178.90,593.80) rotate(90)" font-size="9.7" fill="#111">10.4-13.1</text>
<text x="96.40" y="639.60" font-size="10.8" fill="#111">HbA<tspan font-size="6.3" dy="0.9">1c</tspan><tspan dy="-0.9"> (%)</tspan></text>
<text x="206.70" y="442.3" font-weight="700" font-size="9.7" fill="#000">Microvascular complications</text>
<polygon points="207.30,562.36 221.01,563.41 234.72,565.23 248.43,565.23 262.14,564.45 275.85,561.19 289.56,562.88 303.27,559.76 316.98,559.50 330.69,553.78 344.40,556.77 344.40,566.01 330.69,559.76 316.98,564.45 303.27,564.84 289.56,566.92 275.85,564.71 262.14,567.83 248.43,568.87 234.72,568.87 221.01,568.61 207.30,571.21" fill="#f79723" fill-opacity="0.25"/>
<polygon points="207.30,539.73 221.01,553.78 234.72,553.91 248.43,555.86 262.14,552.22 275.85,549.61 289.56,549.88 303.27,543.37 316.98,547.53 330.69,548.31 344.40,539.99 344.40,553.78 330.69,558.98 316.98,553.78 303.27,552.74 289.56,558.20 275.85,558.46 262.14,561.58 248.43,563.67 234.72,562.36 221.01,563.93 207.30,561.58" fill="#93bfdf" fill-opacity="0.25"/>
<polyline points="207.30,562.36 221.01,563.41 234.72,565.23 248.43,565.23 262.14,564.45 275.85,561.19 289.56,562.88 303.27,559.76 316.98,559.50 330.69,553.78 344.40,556.77" fill="none" stroke="#6a6a6a" stroke-width="1.1" stroke-linecap="round" stroke-dasharray="0.05 2.25"/>
<polyline points="207.30,571.21 221.01,568.61 234.72,568.87 248.43,568.87 262.14,567.83 275.85,564.71 289.56,566.92 303.27,564.84 316.98,564.45 330.69,559.76 344.40,566.01" fill="none" stroke="#6a6a6a" stroke-width="1.1" stroke-linecap="round" stroke-dasharray="0.05 2.25"/>
<polyline points="207.30,539.73 221.01,553.78 234.72,553.91 248.43,555.86 262.14,552.22 275.85,549.61 289.56,549.88 303.27,543.37 316.98,547.53 330.69,548.31 344.40,539.99" fill="none" stroke="#6a6a6a" stroke-width="1.1" stroke-linecap="round" stroke-dasharray="0.05 2.25"/>
<polyline points="207.30,561.58 221.01,563.93 234.72,562.36 248.43,563.67 262.14,561.58 275.85,558.46 289.56,558.20 303.27,552.74 316.98,553.78 330.69,558.98 344.40,553.78" fill="none" stroke="#6a6a6a" stroke-width="1.1" stroke-linecap="round" stroke-dasharray="0.05 2.25"/>
<polyline points="207.30,567.57 221.01,566.27 234.72,567.31 248.43,567.05 262.14,566.27 275.85,563.15 289.56,565.49 303.27,562.88 316.98,562.10 330.69,556.77 344.40,562.10" fill="none" stroke="#ffa500" stroke-width="1.6" stroke-linejoin="round"/>
<polyline points="207.30,555.60 221.01,559.76 234.72,557.68 248.43,559.50 262.14,557.42 275.85,554.04 289.56,554.04 303.27,549.09 316.98,550.66 330.69,553.52 344.40,545.19" fill="none" stroke="#0000ff" stroke-width="1.6" stroke-linejoin="round"/>
<path d="M199.0,445.6 V589.2 H352.5" fill="none" stroke="#8c8c8c" stroke-width="1.5"/>
<path d="M197.0,582.40 H199.0" stroke="#555" stroke-width="0.9"/>
<path d="M197.0,556.38 H199.0" stroke="#555" stroke-width="0.9"/>
<path d="M197.0,530.36 H199.0" stroke="#555" stroke-width="0.9"/>
<path d="M197.0,504.34 H199.0" stroke="#555" stroke-width="0.9"/>
<path d="M197.0,478.32 H199.0" stroke="#555" stroke-width="0.9"/>
<path d="M197.0,452.30 H199.0" stroke="#555" stroke-width="0.9"/>
<path d="M207.30,589.2 V591.2" stroke="#555" stroke-width="0.9"/>
<text transform="translate(204.70,593.80) rotate(90)" font-size="9.7" fill="#111">4.9-5.3</text>
<path d="M221.01,589.2 V591.2" stroke="#555" stroke-width="0.9"/>
<text transform="translate(218.41,593.80) rotate(90)" font-size="9.7" fill="#111">5.4-5.7</text>
<path d="M234.72,589.2 V591.2" stroke="#555" stroke-width="0.9"/>
<text transform="translate(232.12,593.80) rotate(90)" font-size="9.7" fill="#111">5.8-6.2</text>
<path d="M248.43,589.2 V591.2" stroke="#555" stroke-width="0.9"/>
<text transform="translate(245.83,593.80) rotate(90)" font-size="9.7" fill="#111">6.3-6.6</text>
<path d="M262.14,589.2 V591.2" stroke="#555" stroke-width="0.9"/>
<text transform="translate(259.54,593.80) rotate(90)" font-size="9.7" fill="#111">6.7-7.1</text>
<path d="M275.85,589.2 V591.2" stroke="#555" stroke-width="0.9"/>
<text transform="translate(273.25,593.80) rotate(90)" font-size="9.7" fill="#111">7.2-7.5</text>
<path d="M289.56,589.2 V591.2" stroke="#555" stroke-width="0.9"/>
<text transform="translate(286.96,593.80) rotate(90)" font-size="9.7" fill="#111">7.6-8.0</text>
<path d="M303.27,589.2 V591.2" stroke="#555" stroke-width="0.9"/>
<text transform="translate(300.67,593.80) rotate(90)" font-size="9.7" fill="#111">8.1-8.5</text>
<path d="M316.98,589.2 V591.2" stroke="#555" stroke-width="0.9"/>
<text transform="translate(314.38,593.80) rotate(90)" font-size="9.7" fill="#111">8.6-9.4</text>
<path d="M330.69,589.2 V591.2" stroke="#555" stroke-width="0.9"/>
<text transform="translate(328.09,593.80) rotate(90)" font-size="9.7" fill="#111">9.5-10.3</text>
<path d="M344.40,589.2 V591.2" stroke="#555" stroke-width="0.9"/>
<text transform="translate(341.80,593.80) rotate(90)" font-size="9.7" fill="#111">10.4-13.1</text>
<text x="259.80" y="639.60" font-size="10.8" fill="#111">HbA<tspan font-size="6.3" dy="0.9">1c</tspan><tspan dy="-0.9"> (%)</tspan></text>
<text x="368.40" y="442.3" font-weight="700" font-size="9.7" fill="#000">Hospitalization due to hypoglycemia</text>
<polygon points="370.60,580.06 384.27,579.80 397.94,580.32 411.61,579.80 425.28,579.02 438.95,578.76 452.62,577.72 466.29,576.42 479.96,576.94 493.63,573.55 507.30,573.55 507.30,579.28 493.63,578.50 479.96,579.28 466.29,579.28 452.62,580.58 438.95,581.23 425.28,581.36 411.61,582.40 397.94,582.40 384.27,582.40 370.60,582.40" fill="#f79723" fill-opacity="0.25"/>
<polygon points="370.60,574.07 384.27,574.07 397.94,575.89 411.61,575.63 425.28,574.33 438.95,573.16 452.62,568.61 466.29,569.65 479.96,569.39 493.63,566.01 507.30,562.36 507.30,570.17 493.63,572.77 479.96,575.37 466.29,575.63 452.62,574.33 438.95,576.94 425.28,578.76 411.61,579.28 397.94,580.06 384.27,579.67 370.60,582.40" fill="#93bfdf" fill-opacity="0.25"/>
<polyline points="370.60,580.06 384.27,579.80 397.94,580.32 411.61,579.80 425.28,579.02 438.95,578.76 452.62,577.72 466.29,576.42 479.96,576.94 493.63,573.55 507.30,573.55" fill="none" stroke="#6a6a6a" stroke-width="1.1" stroke-linecap="round" stroke-dasharray="0.05 2.25"/>
<polyline points="370.60,582.40 384.27,582.40 397.94,582.40 411.61,582.40 425.28,581.36 438.95,581.23 452.62,580.58 466.29,579.28 479.96,579.28 493.63,578.50 507.30,579.28" fill="none" stroke="#6a6a6a" stroke-width="1.1" stroke-linecap="round" stroke-dasharray="0.05 2.25"/>
<polyline points="370.60,574.07 384.27,574.07 397.94,575.89 411.61,575.63 425.28,574.33 438.95,573.16 452.62,568.61 466.29,569.65 479.96,569.39 493.63,566.01 507.30,562.36" fill="none" stroke="#6a6a6a" stroke-width="1.1" stroke-linecap="round" stroke-dasharray="0.05 2.25"/>
<polyline points="370.60,582.40 384.27,579.67 397.94,580.06 411.61,579.28 425.28,578.76 438.95,576.94 452.62,574.33 466.29,575.63 479.96,575.37 493.63,572.77 507.30,570.17" fill="none" stroke="#6a6a6a" stroke-width="1.1" stroke-linecap="round" stroke-dasharray="0.05 2.25"/>
<polyline points="370.60,581.62 384.27,581.23 397.94,581.88 411.61,581.23 425.28,580.19 438.95,579.67 452.62,579.02 466.29,577.46 479.96,577.72 493.63,575.89 507.30,576.68" fill="none" stroke="#ffa500" stroke-width="1.6" stroke-linejoin="round"/>
<polyline points="370.60,579.28 384.27,576.68 397.94,578.24 411.61,577.46 425.28,576.68 438.95,575.76 452.62,570.69 466.29,572.77 479.96,572.77 493.63,569.13 507.30,567.05" fill="none" stroke="#0000ff" stroke-width="1.6" stroke-linejoin="round"/>
<path d="M362.9,445.6 V589.2 H515.9" fill="none" stroke="#8c8c8c" stroke-width="1.5"/>
<path d="M360.9,582.40 H362.9" stroke="#555" stroke-width="0.9"/>
<path d="M360.9,556.38 H362.9" stroke="#555" stroke-width="0.9"/>
<path d="M360.9,530.36 H362.9" stroke="#555" stroke-width="0.9"/>
<path d="M360.9,504.34 H362.9" stroke="#555" stroke-width="0.9"/>
<path d="M360.9,478.32 H362.9" stroke="#555" stroke-width="0.9"/>
<path d="M360.9,452.30 H362.9" stroke="#555" stroke-width="0.9"/>
<path d="M370.60,589.2 V591.2" stroke="#555" stroke-width="0.9"/>
<text transform="translate(368.00,593.80) rotate(90)" font-size="9.7" fill="#111">4.9-5.3</text>
<path d="M384.27,589.2 V591.2" stroke="#555" stroke-width="0.9"/>
<text transform="translate(381.67,593.80) rotate(90)" font-size="9.7" fill="#111">5.4-5.7</text>
<path d="M397.94,589.2 V591.2" stroke="#555" stroke-width="0.9"/>
<text transform="translate(395.34,593.80) rotate(90)" font-size="9.7" fill="#111">5.8-6.2</text>
<path d="M411.61,589.2 V591.2" stroke="#555" stroke-width="0.9"/>
<text transform="translate(409.01,593.80) rotate(90)" font-size="9.7" fill="#111">6.3-6.6</text>
<path d="M425.28,589.2 V591.2" stroke="#555" stroke-width="0.9"/>
<text transform="translate(422.68,593.80) rotate(90)" font-size="9.7" fill="#111">6.7-7.1</text>
<path d="M438.95,589.2 V591.2" stroke="#555" stroke-width="0.9"/>
<text transform="translate(436.35,593.80) rotate(90)" font-size="9.7" fill="#111">7.2-7.5</text>
<path d="M452.62,589.2 V591.2" stroke="#555" stroke-width="0.9"/>
<text transform="translate(450.02,593.80) rotate(90)" font-size="9.7" fill="#111">7.6-8.0</text>
<path d="M466.29,589.2 V591.2" stroke="#555" stroke-width="0.9"/>
<text transform="translate(463.69,593.80) rotate(90)" font-size="9.7" fill="#111">8.1-8.5</text>
<path d="M479.96,589.2 V591.2" stroke="#555" stroke-width="0.9"/>
<text transform="translate(477.36,593.80) rotate(90)" font-size="9.7" fill="#111">8.6-9.4</text>
<path d="M493.63,589.2 V591.2" stroke="#555" stroke-width="0.9"/>
<text transform="translate(491.03,593.80) rotate(90)" font-size="9.7" fill="#111">9.5-10.3</text>
<path d="M507.30,589.2 V591.2" stroke="#555" stroke-width="0.9"/>
<text transform="translate(504.70,593.80) rotate(90)" font-size="9.7" fill="#111">10.4-13.1</text>
<text x="423.70" y="639.60" font-size="10.8" fill="#111">HbA<tspan font-size="6.3" dy="0.9">1c</tspan><tspan dy="-0.9"> (%)</tspan></text>
<text transform="translate(8.6,515.60) rotate(-90)" text-anchor="middle" font-size="10.8" fill="#111">Standardized risk (%)</text>
<rect x="427.1" y="462.1" width="13.5" height="4.0" fill="#0000ff"/>
<text x="446.3" y="466.9" font-size="9.75" fill="#111">Type 1 diabetes</text>
<rect x="427.1" y="473.0" width="13.5" height="4.0" fill="#ffa500"/>
<text x="446.3" y="478.0" font-size="9.75" fill="#111">Type 2 diabetes</text>
</svg>
</body></html>
